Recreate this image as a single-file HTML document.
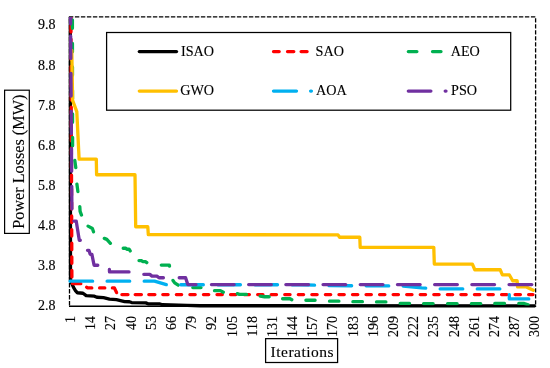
<!DOCTYPE html>
<html><head><meta charset="utf-8"><title>Convergence</title>
<style>
html,body{margin:0;padding:0;background:#fff;}
body{width:550px;height:368px;overflow:hidden;}
svg{display:block;font-family:"Liberation Serif",serif;}
.tick text{font-size:14px;fill:#000;stroke:#000;stroke-width:0.15px;}
.ser path{fill:none;stroke-width:3.3;stroke-linecap:round;stroke-linejoin:round;}
.lg text{font-size:14.2px;fill:#000;stroke:#000;stroke-width:0.12px;}
.ttl text{font-size:15.5px;fill:#000;stroke:#000;stroke-width:0.12px;}
</style></head><body>
<svg width="550" height="368" viewBox="0 0 550 368">
<rect width="550" height="368" fill="#fff"/>
<path d="M69.5 305.5 V16.9 H535.6 V305.5" fill="none" stroke="#000" stroke-width="1.3" stroke-dasharray="4.4 1.6"/>
<defs><clipPath id="cp"><rect x="67" y="16.9" width="468.6" height="292"/></clipPath></defs>
<g class="ser" clip-path="url(#cp)"><g transform="translate(0 0.35)">
<path d="M70.3 10.0 L70.5 279.0 L71.5 282.5 L73.5 287.0 L75.6 290.5 L77.4 292.4 L83.0 292.9 L86.2 295.3 L94.4 295.8 L96.9 296.9 L103.5 297.2 L109.5 298.8 L116.4 299.2 L124.6 301.2 L129.4 301.4 L131.6 302.2 L145.8 302.5 L148.0 303.4 L160.0 303.6 L162.5 304.4 L187.0 305.0 L200.0 305.4 L534.8 305.5" stroke="#000"/>
<path d="M70.9 10.0 L71.9 281.0" stroke="#FF0000" stroke-dasharray="6.50 7.10" stroke-dashoffset="11.95"/>
<path d="M72.5 283.0 L72.6 283.3 L80.8 283.3 M86.6 286.8 L87.4 287.6 L91.8 287.6 M99.6 287.6 L104.8 287.6 M112.4 287.6 L114.4 287.6 L116.6 292.3 M121.9 294.2 L128.0 294.2 M135.2 294.2 L141.4 294.2 M148.8 294.2 L154.9 294.2" stroke="#FF0000"/>
<path d="M158.0 294.2 L533.0 294.2" stroke="#FF0000" stroke-dasharray="5.30 8.25" stroke-dashoffset="8.75"/>
<path d="M72.4 10.0 L72.6 146.0" stroke="#00B050" stroke-dasharray="8.30 15.20" stroke-dashoffset="13.85"/>
<path d="M74.8 160.1 L75.8 167.3 M76.9 183.7 L77.9 191.3 M79.8 206.2 L80.1 211.0 L81.5 214.7 M88.1 225.8 L92.4 228.1 L93.5 231.5 M104.3 238.0 L106.8 239.0 L110.4 243.0 M123.2 247.9 L125.8 247.9 L126.9 248.9 L129.1 248.9 L130.2 250.6 M139.0 260.2 L141.6 260.2 L142.7 261.3 L145.4 261.3 L146.8 262.3 M161.3 264.7 L169.3 264.7 L169.5 265.8 M173.0 280.1 L174.7 282.5 L178.2 284.8 M192.8 287.2 L201.0 287.2 M214.5 290.3 L220.4 290.3 L223.3 291.9 M237.3 293.3 L239.4 294.0 L246.5 294.0 M260.2 295.8 L264.5 296.4 L269.2 296.4 M282.6 298.4 L290.0 298.4 L291.8 299.4 M305.9 299.9 L315.1 299.9 M329.5 300.8 L338.9 300.8 M352.9 301.3 L362.4 301.3 M376.5 301.6 L385.9 301.6 M400.2 303.1 L409.5 303.1 M423.6 303.2 L433.1 303.2 M447.6 303.3 L457.1 303.3 M471.4 303.3 L480.7 303.3 M494.8 303.1 L504.5 303.1 M518.8 303.1 L524.2 303.1 L528.1 304.5" stroke="#00B050"/>
<path d="M71.8 50.0 L72.6 100.0 L76.8 111.3 L79.1 158.8 L96.3 158.8 L96.6 174.4 L135.0 174.4 L135.7 226.4 L147.8 226.4 L148.3 234.3 L338.0 234.5 L339.6 236.9 L359.8 236.9 L360.2 247.0 L433.8 247.0 L434.3 263.7 L472.4 263.7 L474.8 269.4 L500.2 269.4 L502.4 274.6 L509.4 274.6 L512.7 280.4 L517.1 280.4 L517.6 286.4 L525.8 286.4 L533.3 289.9" stroke="#FFC000"/>
<path d="M69.9 280.8 L154.5 280.8 L166.5 284.4 L300.0 284.4 L330.0 285.3 L403.0 285.7 L421.8 287.5 L430.0 288.1 L437.8 288.6 L504.0 288.6" stroke="#00B0F0" stroke-dasharray="22.60 14.48" stroke-dashoffset="36.95"/>
<path d="M509.3 294.3 L509.3 298.6 L528.8 298.6" stroke="#00B0F0"/>
<path d="M70.5 10.0 L71.9 209.6" stroke="#7030A0" stroke-dasharray="22.50 15.10" stroke-dashoffset="12.04"/>
<path d="M73.9 220.7 L76.2 220.7 L79.3 239.9 L80.3 239.9 M87.5 250.0 L88.9 250.0 L90.2 254.0 L91.9 254.0 L94.1 264.9 L97.8 264.9 M109.4 269.1 L109.5 271.6 L129.0 271.6 M143.8 274.0 L149.8 274.0 L152.0 275.8 L156.9 275.8 L159.0 277.4 L163.4 277.4 M179.2 277.4 L185.6 277.4 L187.8 284.2 L196.0 284.2" stroke="#7030A0"/>
<path d="M70.5 15.1 L70.6 23.5" stroke="#7030A0"/>
<path d="M200.0 284.2 L532.6 284.2" stroke="#7030A0" stroke-dasharray="22.70 14.50" stroke-dashoffset="25.75"/>
</g></g>
<line x1="69" y1="306.2" x2="536.2" y2="306.2" stroke="#000" stroke-width="1.5"/>
<g class="tick">
<text x="55.5" y="29.4" text-anchor="end">9.8</text>
<text x="55.5" y="69.5" text-anchor="end">8.8</text>
<text x="55.5" y="109.6" text-anchor="end">7.8</text>
<text x="55.5" y="149.7" text-anchor="end">6.8</text>
<text x="55.5" y="189.8" text-anchor="end">5.8</text>
<text x="55.5" y="230.0" text-anchor="end">4.8</text>
<text x="55.5" y="270.1" text-anchor="end">3.8</text>
<text x="55.5" y="310.2" text-anchor="end">2.8</text>
<text transform="translate(74.9 316.0) rotate(-90)" text-anchor="end">1</text>
<text transform="translate(95.1 316.0) rotate(-90)" text-anchor="end">14</text>
<text transform="translate(115.3 316.0) rotate(-90)" text-anchor="end">27</text>
<text transform="translate(135.5 316.0) rotate(-90)" text-anchor="end">40</text>
<text transform="translate(155.7 316.0) rotate(-90)" text-anchor="end">53</text>
<text transform="translate(175.9 316.0) rotate(-90)" text-anchor="end">66</text>
<text transform="translate(196.1 316.0) rotate(-90)" text-anchor="end">79</text>
<text transform="translate(216.3 316.0) rotate(-90)" text-anchor="end">92</text>
<text transform="translate(236.5 316.0) rotate(-90)" text-anchor="end">105</text>
<text transform="translate(256.7 316.0) rotate(-90)" text-anchor="end">118</text>
<text transform="translate(276.9 316.0) rotate(-90)" text-anchor="end">131</text>
<text transform="translate(297.1 316.0) rotate(-90)" text-anchor="end">144</text>
<text transform="translate(317.2 316.0) rotate(-90)" text-anchor="end">157</text>
<text transform="translate(337.4 316.0) rotate(-90)" text-anchor="end">170</text>
<text transform="translate(357.6 316.0) rotate(-90)" text-anchor="end">183</text>
<text transform="translate(377.8 316.0) rotate(-90)" text-anchor="end">196</text>
<text transform="translate(398.0 316.0) rotate(-90)" text-anchor="end">209</text>
<text transform="translate(418.2 316.0) rotate(-90)" text-anchor="end">222</text>
<text transform="translate(438.4 316.0) rotate(-90)" text-anchor="end">235</text>
<text transform="translate(458.6 316.0) rotate(-90)" text-anchor="end">248</text>
<text transform="translate(478.8 316.0) rotate(-90)" text-anchor="end">261</text>
<text transform="translate(499.0 316.0) rotate(-90)" text-anchor="end">274</text>
<text transform="translate(519.2 316.0) rotate(-90)" text-anchor="end">287</text>
<text transform="translate(539.4 316.0) rotate(-90)" text-anchor="end">300</text>
</g>
<rect x="106.6" y="32.5" width="404.1" height="77.7" fill="#fff" stroke="#000" stroke-width="1.25"/>
<g class="ser" style="stroke-width:3.05px">
<path d="M139.3 51.6 H176.5" stroke="#000"/>
<path d="M139.3 91.1 H176.5" stroke="#FFC000"/>
<path d="M273.5 51.6 H279.2 M287.5 51.6 H293.8 M301.1 51.6 H307.1" stroke="#FF0000"/>
<path d="M273.5 91.1 H296.5 M310.6 91.1 h0.8" stroke="#00B0F0"/>
<path d="M408.3 51.6 H416.9 M432.5 51.6 H441" stroke="#00B050"/>
<path d="M408.3 91.1 H430.9 M445.2 91.1 h0.8" stroke="#7030A0"/>
</g>
<g class="lg">
<text x="181" y="56.4">ISAO</text>
<text x="180.2" y="95.4">GWO</text>
<text x="315.6" y="56.4">SAO</text>
<text x="316" y="95.4">AOA</text>
<text x="450.7" y="56.4">AEO</text>
<text x="451" y="95.4">PSO</text>
</g>
<rect x="4.6" y="90.2" width="24.7" height="143.2" fill="#fff" stroke="#000" stroke-width="1.2"/>
<rect x="265.6" y="338.65" width="72" height="23.85" fill="#fff" stroke="#000" stroke-width="1.25"/>
<g class="ttl">
<text transform="translate(23.5 161.7) rotate(-90)" text-anchor="middle" textLength="134" lengthAdjust="spacing" style="font-size:16.2px">Power Losses (MW)</text>
<text x="302.1" y="356.7" text-anchor="middle" textLength="63" lengthAdjust="spacing">Iterations</text>
</g>
</svg>
</body></html>
